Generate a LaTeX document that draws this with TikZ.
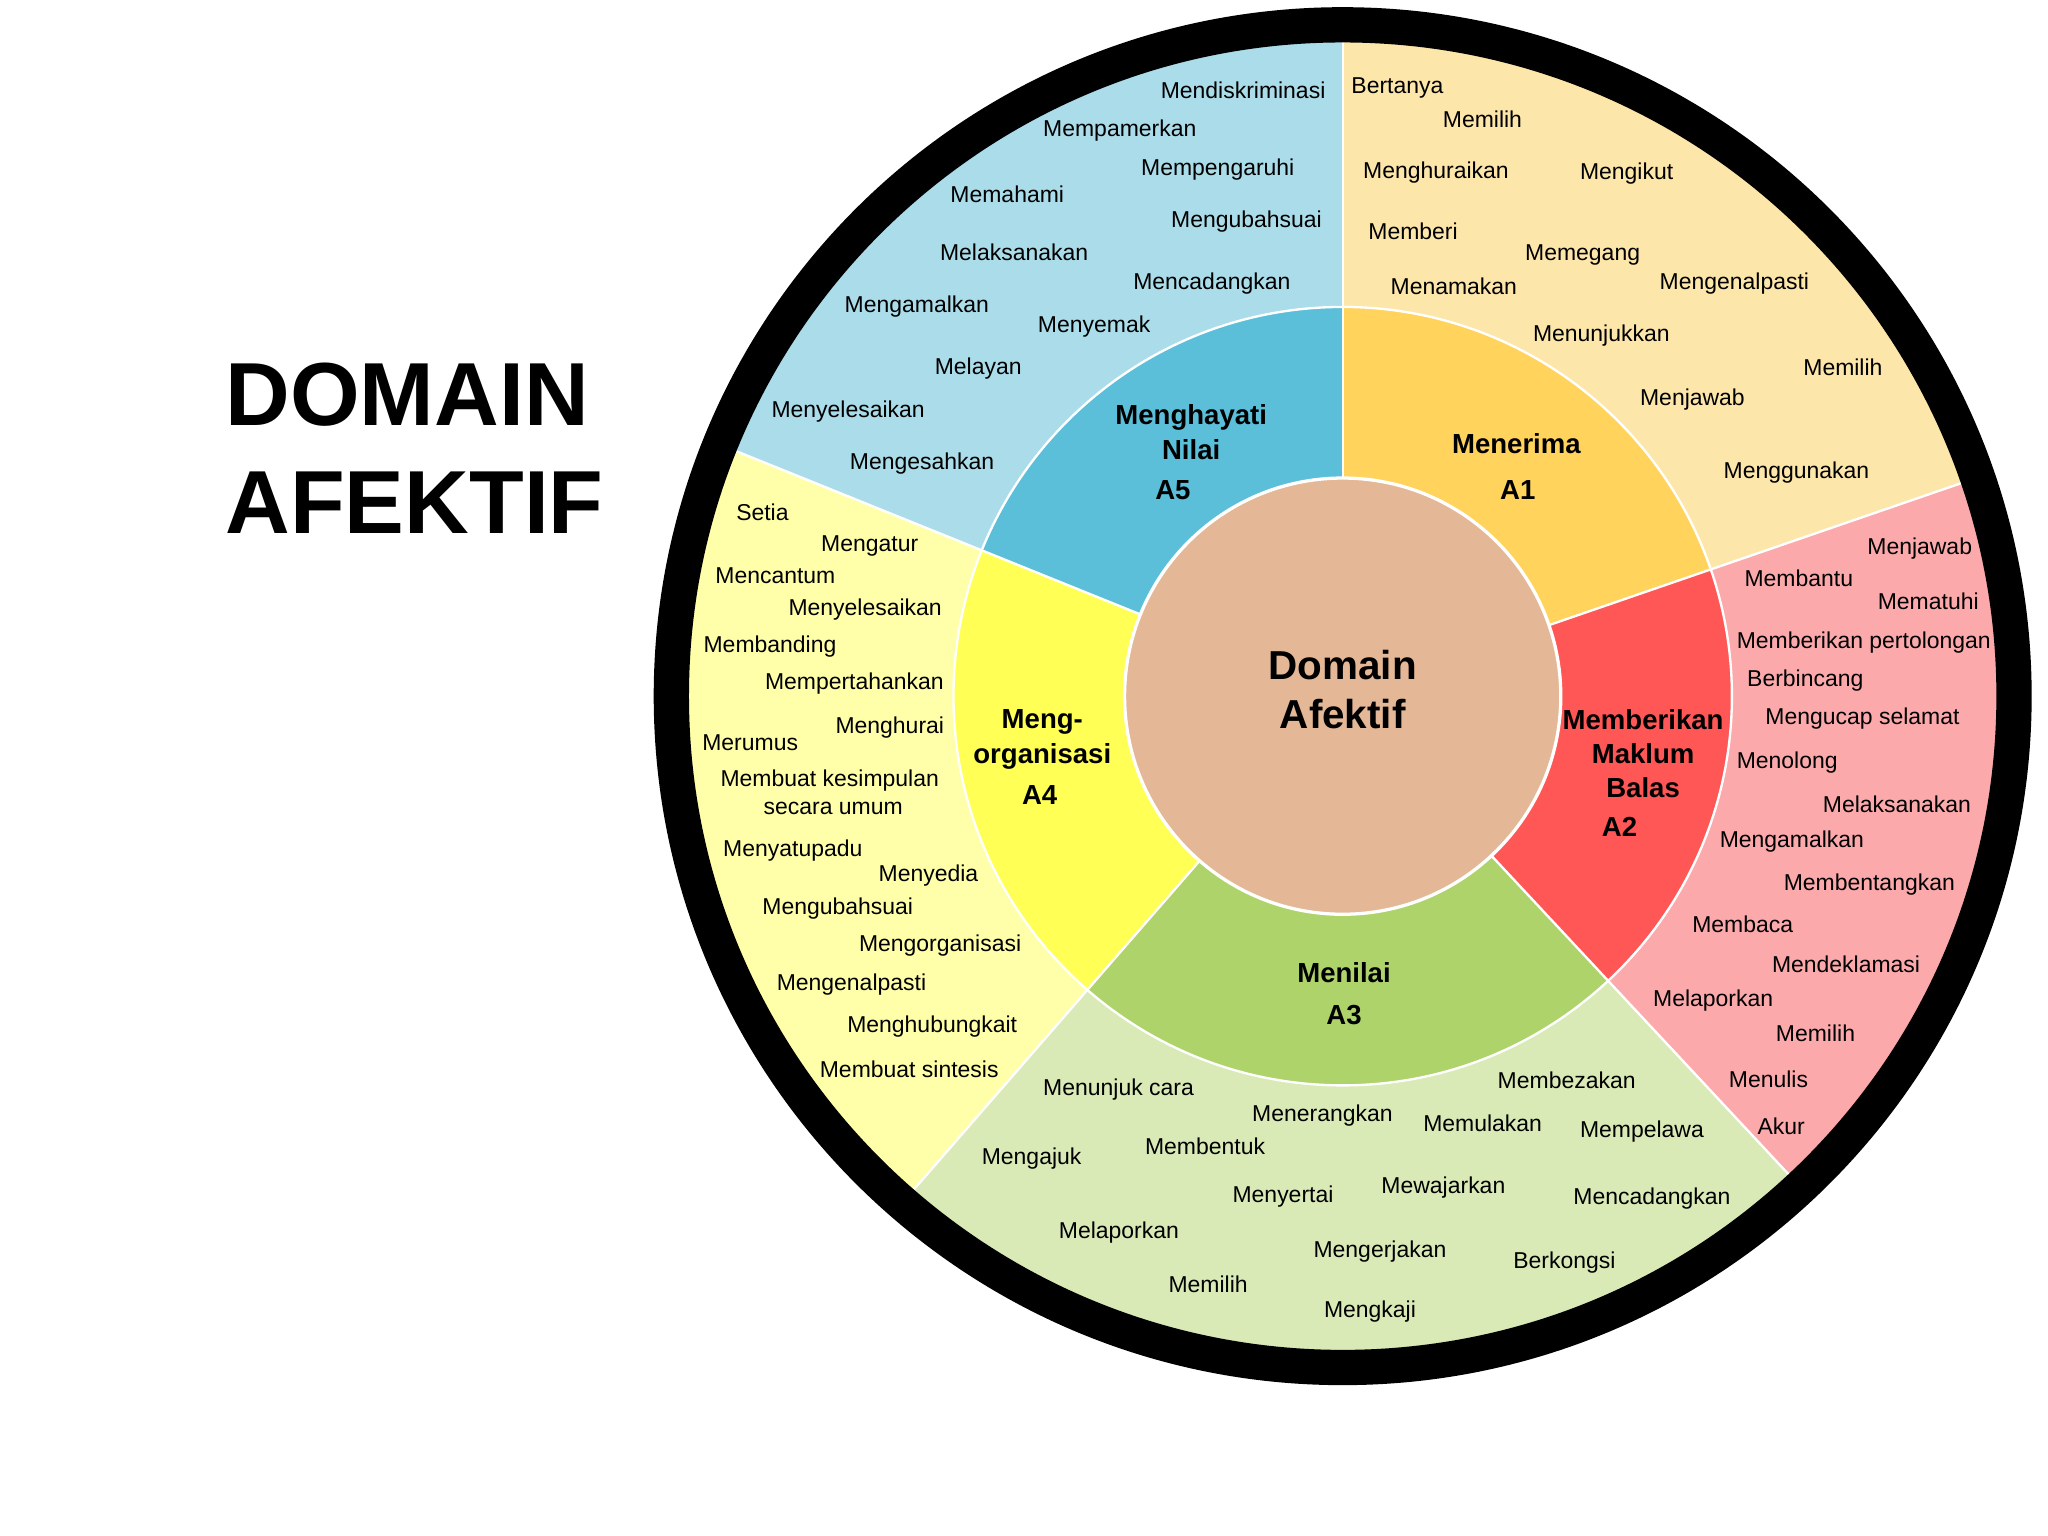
\documentclass[tikz,border=0pt]{standalone}
\usepackage{fontspec}
\setmainfont{Liberation Sans}
\definecolor{aIn}{HTML}{FFD35C}\definecolor{aOut}{HTML}{FDE6AA}
\definecolor{bIn}{HTML}{FF5656}\definecolor{bOut}{HTML}{FCA9AC}
\definecolor{cIn}{HTML}{AED36A}\definecolor{cOut}{HTML}{D9EAB6}
\definecolor{dIn}{HTML}{FFFF55}\definecolor{dOut}{HTML}{FFFFAA}
\definecolor{eIn}{HTML}{5BBFDA}\definecolor{eOut}{HTML}{AADCEA}
\definecolor{core}{HTML}{E4B896}
\tikzset{lbl/.style={anchor=west,inner sep=0pt,font=\fontsize{5}{6}\selectfont},
 seg/.style={align=center,inner sep=0pt,font=\bfseries\fontsize{6}{7.5}\selectfont},
 sep/.style={white,line width=0.018cm}}
\begin{document}
\begin{tikzpicture}[x=0.01cm,y=0.01cm]
\useasboundingbox (0,0) rectangle (1568,-1176);
\coordinate (c) at (1028,-533);
\foreach \a/\b/\col in {19/90/aOut,-47/19/bOut,-131/-47/cOut,158/229/dOut,90/158/eOut}
 \fill[\col] (c) -- ++(\a:501) arc[start angle=\a,end angle=\b,radius=501] -- cycle;
\foreach \a/\b/\col in {19/90/aIn,-47/19/bIn,-131/-47/cIn,158/229/dIn,90/158/eIn}
 \fill[\col] (c) -- ++(\a:298) arc[start angle=\a,end angle=\b,radius=298] -- cycle;
\foreach \a in {19,90,-47,-131,158} \draw[sep] (c) -- ++(\a:501);
\draw[sep] (c) circle (298);
\draw[white,line width=0.025cm,fill=core] (c) circle (167);
\draw[black,line width=0.27cm] (c) circle (514);
\node[font=\bfseries\fontsize{19.5}{23}\selectfont,anchor=west,align=left,inner sep=0pt] (title) at (172,-343) {DOMAIN\\[0.6pt]AFEKTIF};
\node[align=center,inner sep=0pt,font=\bfseries\fontsize{8.8}{10.5}\selectfont] (core) at (1028,-528) {Domain\\Afektif};
\node[seg] (s5) at (912,-331) {Menghayati\\Nilai};\node[seg] (s5b) at (898,-375) {A5};
\node[seg] (s1) at (1161,-340) {Menerima};\node[seg] (s1b) at (1162,-375) {A1};
\node[seg] (s2) at (1258,-577) {Memberikan\\Maklum\\Balas};\node[seg] (s2b) at (1240,-633) {A2};
\node[seg] (s3) at (1029,-745) {Menilai};\node[seg] (s3b) at (1029,-777) {A3};
\node[seg] (s4) at (798,-566) {Meng-\\organisasi};\node[seg] (s4b) at (796,-609) {A4};
\foreach \x/\y/\s [count=\i] in {888/69/Mendiskriminasi,798/100/Mempamerkan,873/130/Mempengaruhi,727/149/Memahami,896/170/Mengubahsuai,719/193/Melaksanakan,867/217/Mencadangkan,646/235/Mengamalkan,794/250/Menyemak,715/282/Melayan,590/315/Menyelesaikan,650/355/Mengesahkan,
1034/67/Bertanya,1104/91/Memilih,1043/132/Menghuraikan,1209/133/Mengikut,1047/177/Memberi,1167/195/Memegang,1064/219/Menamakan,1270/217/Mengenalpasti,1173/257/Menunjukkan,1380/281/Memilih,1255/306/Menjawab,1319/362/Menggunakan,
1429/420/Menjawab,1335/443/Membantu,1437/460/Mematuhi,1329/492/Memberikan pertolongan,1337/521/Berbincang,1351/550/Mengucap selamat,1329/584/Menolong,1395/616/Melaksanakan,1316/644/Mengamalkan,1365/677/Membentangkan,1295/708/Membaca,1356/738/Mendeklamasi,1265/766/Melaporkan,1359/791/Memilih,1323/826/Menulis,1345/862/Akur,
798/834/Menunjuk cara,1146/827/Membezakan,958/854/Menerangkan,1089/860/Memulakan,1209/866/Mempelawa,751/887/Mengajuk,876/878/Membentuk,943/916/Menyertai,1057/909/Mewajarkan,1204/918/Mencadangkan,810/944/Melaporkan,1005/958/Mengerjakan,1158/967/Berkongsi,894/983/Memilih,1013/1004/Mengkaji,
563/392/Setia,628/418/Mengatur,547/441/Mencantum,603/467/Menyelesaikan,538/495/Membanding,585/523/Mempertahankan,639/557/Menghurai,537/569/Merumus,551/598/Membuat kesimpulan,584/619/secara umum,553/651/Menyatupadu,672/670/Menyedia,583/696/Mengubahsuai,657/724/Mengorganisasi,594/754/Mengenalpasti,648/786/Menghubungkait,627/819/Membuat sintesis}
 \node[lbl] (w\i) at (\x,-\y) {\s};
\end{tikzpicture}
\end{document}
